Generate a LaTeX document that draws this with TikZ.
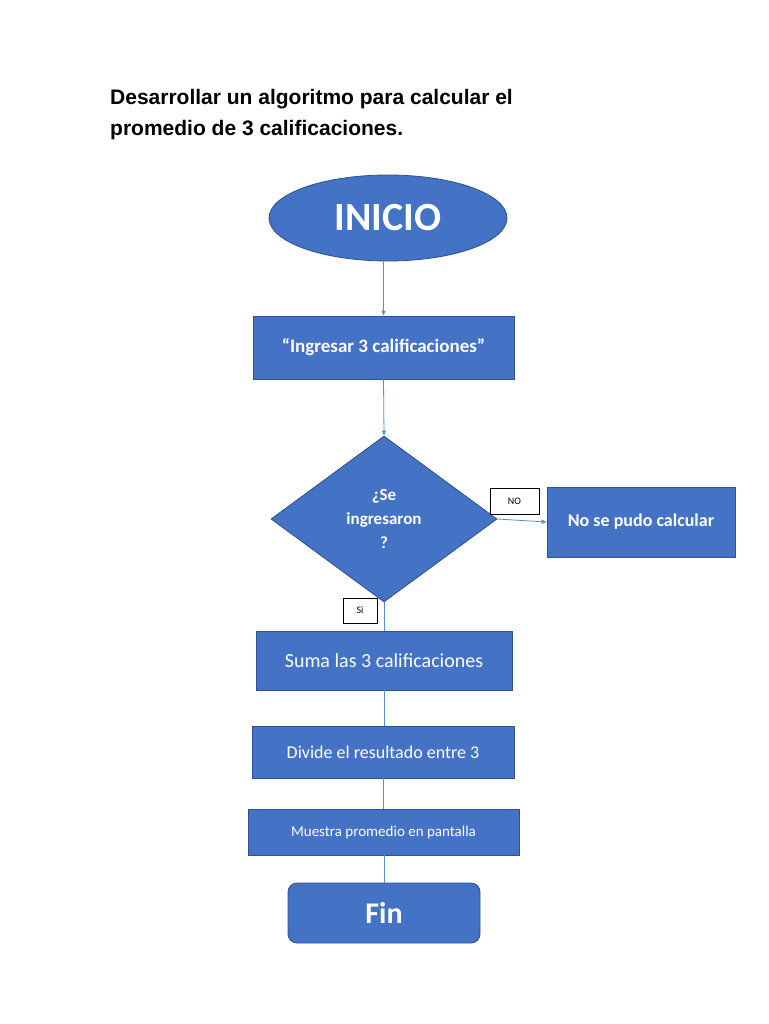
\documentclass[tikz,border=0pt]{standalone}
\usepackage{fontspec}
\setmainfont{Carlito}
\newfontfamily\titlefont{Liberation Sans}
\usetikzlibrary{shapes.geometric,arrows.meta}
\definecolor{bfill}{HTML}{4472C4}
\definecolor{bdraw}{HTML}{2F528F}
\definecolor{lcol}{HTML}{5B8BD0}
\tikzset{
 blk/.style={draw=bdraw,fill=bfill,text=white,line width=0.8pt,inner sep=0pt},
 lab/.style={draw=black,fill=white,line width=0.6pt,inner sep=0pt,font=\fontsize{10}{12}\selectfont},
 con/.style={draw=lcol,line width=0.8pt},
 arr/.style={con,-{Triangle[length=5pt,width=4pt]}}
}
\begin{document}
\begin{tikzpicture}[x=1pt,y=-1pt]
\useasboundingbox[fill=white] (0,0) rectangle (768,1024);
\node[anchor=north west,align=left,font=\titlefont\bfseries\fontsize{21}{31}\selectfont,inner sep=0pt] (title) at (110,89) {Desarrollar un algoritmo para calcular el\\promedio de 3 calificaciones.};
\node[blk,ellipse,minimum width=238pt,minimum height=86pt,font=\bfseries\fontsize{40}{44}\selectfont] (ini) at (388,218) {INICIO};
\node[blk,minimum width=261pt,minimum height=63pt,font=\bfseries\fontsize{19}{22}\selectfont] (ing) at (383.5,347.5) {“Ingresar 3 calificaciones”};
\node[blk,diamond,minimum width=226pt,minimum height=166pt,aspect=1.36,align=center,font=\bfseries\fontsize{17}{24}\selectfont] (dec) at (384,519) {¿Se\\ingresaron\\?};
\node[blk,minimum width=188pt,minimum height=70pt,font=\bfseries\fontsize{18}{22}\selectfont] (nop) at (641,522) {No se pudo calcular};
\node[lab,minimum width=49pt,minimum height=26pt] (no) at (514.5,501) {NO};
\node[blk,minimum width=256pt,minimum height=59pt,font=\fontsize{20}{24}\selectfont] (suma) at (384,660.5) {Suma las 3 calificaciones};
\node[lab,minimum width=34pt,minimum height=25pt] (si) at (360,610.5) {Si};
\node[blk,minimum width=262pt,minimum height=52pt,font=\fontsize{18}{22}\selectfont] (div) at (383,752) {Divide el resultado entre 3};
\node[blk,minimum width=271pt,minimum height=46pt,font=\fontsize{15}{18}\selectfont] (mue) at (383.5,832) {Muestra promedio en pantalla};
\node[blk,rounded corners=9pt,minimum width=192pt,minimum height=60pt,font=\bfseries\fontsize{30}{34}\selectfont] (fin) at (384,913) {Fin};
\draw[arr] (ini.south -| ing.north) -- (ing.north);
\draw[arr] (ing.south) -- (dec.north);
\draw[arr] (dec.east) -- (nop.west);
\draw[con] (dec.south) -- (suma.north);
\draw[con] (suma.south) -- (suma.south |- div.north);
\draw[con] (div.south -| mue.north) -- (mue.north);
\draw[con] (mue.south -| fin.north) -- (fin.north);
\end{tikzpicture}
\end{document}
